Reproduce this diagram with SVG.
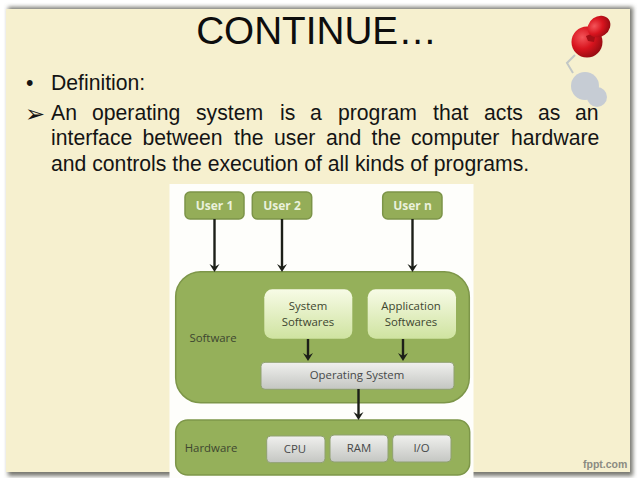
<svg xmlns="http://www.w3.org/2000/svg" width="638" height="478" viewBox="0 0 638 478">
<style>
.b{font-family:"Liberation Sans",Arial,sans-serif;font-size:21.2px;fill:#141414}
.d{font-family:"Open Sans",sans-serif;font-size:11.4px;text-anchor:middle;font-weight:500}
.u{fill:#eaf1dc;font-size:12px;font-weight:700}.k{fill:#3d4630}.g{fill:#47494a}
.user{fill:#94ad58;stroke:#7c9448;stroke-width:1.5}
.con{stroke:#1c1f18;stroke-width:2.4;fill:none}
</style>
<defs>
<linearGradient id="lg" x1="0" y1="0" x2="0" y2="1"><stop offset="0" stop-color="#f7fbe6"/><stop offset="1" stop-color="#cfe3a0"/></linearGradient>
<linearGradient id="gr" x1="0" y1="0" x2="0" y2="1"><stop offset="0" stop-color="#f0f0ee"/><stop offset="1" stop-color="#c4c6c2"/></linearGradient>
<radialGradient id="red" cx="0.35" cy="0.35" r="0.75"><stop offset="0" stop-color="#f4555a"/><stop offset="0.5" stop-color="#d8141e"/><stop offset="1" stop-color="#8c0a10"/></radialGradient>
<filter id="sh" x="-5%" y="-5%" width="110%" height="110%"><feGaussianBlur stdDeviation="2"/></filter>
</defs>
<rect width="638" height="478" fill="#fff"/>
<rect x="8" y="7" width="625" height="469" fill="#77776f" filter="url(#sh)"/>
<rect x="6" y="9" width="624" height="463" fill="#f6f0cf"/>
<g id="pin">
<path d="M575 55L567 63L573 73" fill="none" stroke="#c2c7c6" stroke-width="2"/>
<circle cx="585" cy="86" r="14" fill="#c6ccd4"/><circle cx="597" cy="97" r="10" fill="#c6ccd4"/>
<circle cx="587" cy="42" r="15.500" fill="url(#red)"/>
<path d="M586 36L596 32L594 42L588 41Z" fill="#a50f16"/>
<ellipse cx="599" cy="26.500" rx="12" ry="10" transform="rotate(-35 599 26.500)" fill="url(#red)"/>
</g>
<text x="316.500" y="44" font-family="Liberation Sans,Arial,sans-serif" font-size="38.700" text-anchor="middle" fill="#0d0d0d">CONTINUE…</text>
<text class="b" x="26" y="90">•</text>
<text class="b" x="51" y="90">Definition:</text>
<text x="25" y="122" fill="#141414" style="font-family:'DejaVu Sans',sans-serif;font-size:24px">➢</text>
<text class="b" y="120"><tspan x="51">An</tspan><tspan x="92">operating</tspan><tspan x="196">system</tspan><tspan x="280">is</tspan><tspan x="310">a</tspan><tspan x="338">program</tspan><tspan x="433">that</tspan><tspan x="484">acts</tspan><tspan x="538">as</tspan><tspan x="575">an</tspan></text>
<text class="b" y="145"><tspan x="51">interface</tspan><tspan x="142.500">between</tspan><tspan x="234">the</tspan><tspan x="274">user</tspan><tspan x="326">and</tspan><tspan x="371.500">the</tspan><tspan x="411">computer</tspan><tspan x="511">hardware</tspan></text>
<text class="b" x="51" y="171">and controls the execution of all kinds of programs.</text>
<rect x="169.500" y="184" width="304" height="294" fill="#fefefb"/>
<g id="software"><rect x="175.700" y="271.700" width="293.600" height="131" rx="25" fill="#95b05a" stroke="#7d9649" stroke-width="1.500"/><text class="d k" x="213" y="342">Software</text></g>
<g id="hardware"><rect x="175.700" y="420" width="294" height="55" rx="12" fill="#95b05a" stroke="#7d9649" stroke-width="1.500"/><text class="d k" x="211" y="452">Hardware</text></g>
<g id="user1"><rect class="user" x="185" y="192" width="59" height="27" rx="5"/><text class="d u" x="214.500" y="210">User 1</text></g>
<g id="user2"><rect class="user" x="252.300" y="192" width="59.400" height="27" rx="5"/><text class="d u" x="282" y="210">User 2</text></g>
<g id="usern"><rect class="user" x="382.700" y="192" width="59.300" height="27" rx="5"/><text class="d u" x="412.500" y="210">User n</text></g>
<g id="system"><rect x="264.300" y="289.300" width="88" height="49.400" rx="8" fill="url(#lg)"/><text class="d k" x="308" y="310">System</text><text class="d k" x="308" y="326">Softwares</text></g>
<g id="application"><rect x="367.700" y="289.300" width="88.300" height="49.400" rx="8" fill="url(#lg)"/><text class="d k" x="411" y="310">Application</text><text class="d k" x="411" y="326">Softwares</text></g>
<g id="os"><rect x="261" y="362.300" width="193" height="27" rx="4" fill="url(#gr)" stroke="#8fa070"/><text class="d g" x="357" y="379">Operating System</text></g>
<g id="cpu"><rect x="266.700" y="436" width="58.300" height="26.700" rx="4" fill="url(#gr)" stroke="#8fa070"/><text class="d g" x="295" y="453">CPU</text></g>
<g id="ram"><rect x="330" y="435" width="58" height="27" rx="4" fill="url(#gr)" stroke="#8fa070"/><text class="d g" x="359" y="452">RAM</text></g>
<g id="io"><rect x="392.700" y="435" width="58.300" height="27" rx="4" fill="url(#gr)" stroke="#8fa070"/><text class="d g" x="421.500" y="452">I/O</text></g>
<g id="connectors" fill="#1c1f18">
<path class="con" d="M214.500 219V268"/><path d="M209.500 264L214.500 267L219.500 264L214.500 272Z"/>
<path class="con" d="M282 219V268"/><path d="M277 264L282 267L287 264L282 272Z"/>
<path class="con" d="M412.500 219V268"/><path d="M407.500 264L412.500 267L417.500 264L412.500 272Z"/>
<path class="con" d="M308 339V357"/><path d="M303 353L308 356L313 353L308 361Z"/>
<path class="con" d="M403 339V357"/><path d="M398 353L403 356L408 353L403 361Z"/>
<path class="con" d="M358.500 389V416"/><path d="M353.500 412L358.500 415L363.500 412L358.500 420Z"/>
</g>
<text x="583" y="468" font-family="Liberation Sans,Arial,sans-serif" font-size="10.500" font-weight="bold" fill="#8b8b82">fppt.com</text>
</svg>
